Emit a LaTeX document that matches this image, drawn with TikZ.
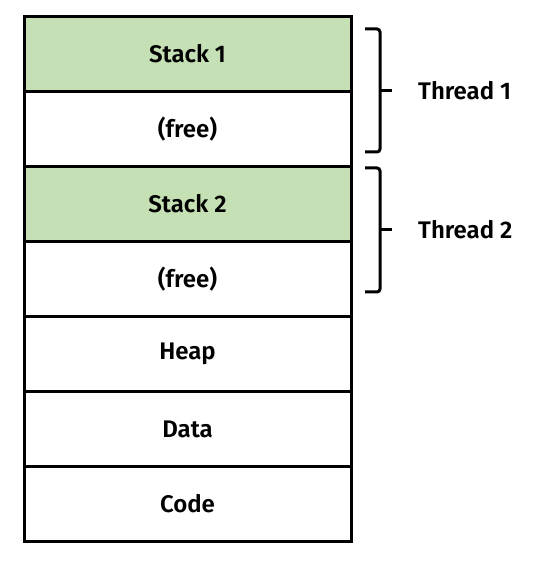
\documentclass[tikz,border=0pt]{standalone}
\usepackage{fontspec}
\setmainfont{Fira Sans}[BoldFont={Fira Sans SemiBold}]
\usetikzlibrary{positioning}
\definecolor{stackgreen}{RGB}{197,224,180}
\tikzset{
x=1pt, y=1pt, % one unit is one pixel of the picture
node distance=75pt, % height of one memory segment
every node/.style={font=\fontsize{24}{28}\selectfont\bfseries},
segment/.style={draw, line width=3pt, minimum width=327pt, minimum height=75pt, inner sep=0pt, outer sep=0pt}, % one block of the address space
stackseg/.style={segment, fill=stackgreen}, % the blocks that hold a stack
bracket/.style={line width=3pt, rounded corners=3pt}, % the braces on the right
threadlabel/.style={anchor=west, inner sep=0pt},
}
\begin{document}
\begin{tikzpicture}
    \useasboundingbox (0,0) rectangle (538,578);
    \node[stackseg] (stack1) at (187.5,524) {Stack 1};
    \node[segment, below of=stack1] (free1) {(free)};
    \node[stackseg, below of=free1] (stack2) {Stack 2};
    \node[segment, below of=stack2] (free2) {(free)};
    \node[segment, below of=free2] (heap) {Heap};
    \node[segment, below of=heap] (data) {Data};
    \node[segment, below of=data] (code) {Code};
    % brace of thread 1
    \draw[bracket] (365,549) -- (380,549) -- (380,426) -- (365,426);
    \draw[bracket] (380,487) -- (392,487);
    \node[threadlabel] (thread1) at (418,487) {Thread 1};
    % brace of thread 2
    \draw[bracket] (365,410) -- (380,410) -- (380,286) -- (365,286);
    \draw[bracket] (380,348) -- (392,348);
    \node[threadlabel] (thread2) at (418,348) {Thread 2};
  \end{tikzpicture}
\end{document}
